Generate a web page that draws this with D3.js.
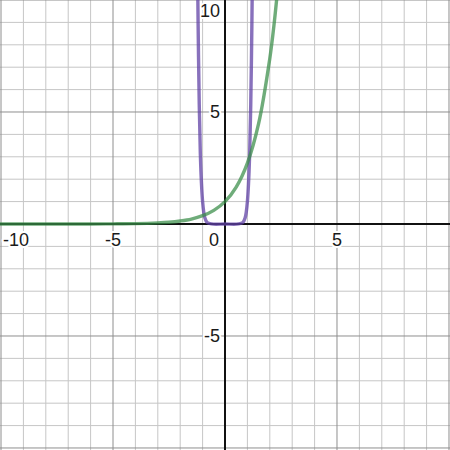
<!DOCTYPE html>
<html>
<head>
<meta charset="utf-8">
<script src="https://cdn.jsdelivr.net/npm/d3@7"></script>
<style>
	body { margin: 0; background: #fff; }
	svg { display: block; }
	.tick_label { font-family: "Liberation Sans", Arial, sans-serif; font-size: 18px; fill: #1a1a1a;
		stroke: #fff; stroke-width: 4px; paint-order: stroke; stroke-linejoin: round; }
</style>
</head>
<body>
<div id="graph_display"></div>
<script>
//------------------------------------------------------------------------------
// Data
//------------------------------------------------------------------------------

var x_ticks = [-10, -5, 5];
var x_tick_labels = ["-10", "-5", "5"];
var y_ticks = [10, 5, -5];
var y_tick_labels = ["10", "5", "-5"];

// green curve (rising exponential)
var green_x = [-10.1, -8, -6, -5, -4, -3, -2.5, -2, -1.5, -1, -0.5, 0, 0.5, 1, 1.5, 2, 2.2, 2.4];
var green_y = [0, 0.0003, 0.0025, 0.007, 0.018, 0.05, 0.08, 0.135, 0.22, 0.37, 0.61, 1, 1.65, 2.72, 4.48, 7.39, 9.0, 11.0];

// purple curve (steep, flat near zero)
var purple_x = [-1.23, -1.2, -1.15, -1.1, -1.05, -1.0, -0.95, -0.9, -0.8, -0.6, 0, 0.6, 0.8, 0.9, 0.95, 1.0, 1.05, 1.1, 1.15, 1.2, 1.23];
var purple_y = [12, 8.9, 5.35, 3.1, 1.8, 1.0, 0.54, 0.28, 0.07, 0.002, 0, 0.002, 0.07, 0.28, 0.54, 1.0, 1.8, 3.1, 5.35, 8.9, 12];


//------------------------------------------------------------------------------
// Plotting functions
//------------------------------------------------------------------------------

function plot_graph(div_id) {
	var width = 450, height = 450;

	var svg = d3.select(div_id)
		.append("svg")
		.attr("width", width)
		.attr("height", height);

	var xscale = d3.scaleLinear()
		.domain([-10.045, 10.045])
		.range([0, width]);

	var yscale = d3.scaleLinear()
		.domain([-10.09, 10.0])
		.range([height, 0]);

	// grid lines, minor first then every 5 darker
	var grid = svg.append("g");
	var minor = d3.range(-10, 11).filter(function(d) { return d % 5 != 0; });
	var major = [-10, -5, 5, 10];

	grid.selectAll("line.vminor").data(minor).enter().append("line")
		.attr("x1", function(d) { return xscale(d); })
		.attr("x2", function(d) { return xscale(d); })
		.attr("y1", 0).attr("y2", height)
		.attr("stroke", "#c6c6c6").attr("stroke-width", 1);
	grid.selectAll("line.hminor").data(minor).enter().append("line")
		.attr("y1", function(d) { return yscale(d); })
		.attr("y2", function(d) { return yscale(d); })
		.attr("x1", 0).attr("x2", width)
		.attr("stroke", "#c6c6c6").attr("stroke-width", 1);
	grid.selectAll("line.vmajor").data(major).enter().append("line")
		.attr("x1", function(d) { return xscale(d); })
		.attr("x2", function(d) { return xscale(d); })
		.attr("y1", 0).attr("y2", height)
		.attr("stroke", "#8e8e8e").attr("stroke-width", 1);
	grid.selectAll("line.hmajor").data(major).enter().append("line")
		.attr("y1", function(d) { return yscale(d); })
		.attr("y2", function(d) { return yscale(d); })
		.attr("x1", 0).attr("x2", width)
		.attr("stroke", "#8e8e8e").attr("stroke-width", 1);

	// axes
	svg.append("line")
		.attr("x1", 0).attr("x2", width)
		.attr("y1", yscale(0)).attr("y2", yscale(0))
		.attr("stroke", "#111").attr("stroke-width", 2);
	svg.append("line")
		.attr("x1", xscale(0)).attr("x2", xscale(0))
		.attr("y1", 0).attr("y2", height)
		.attr("stroke", "#111").attr("stroke-width", 2);

	// tick labels
	svg.selectAll("text.xl").data(x_ticks).enter().append("text")
		.attr("class", "tick_label")
		.attr("x", function(d, i) { return d == -10 ? 3 : xscale(d); })
		.attr("y", yscale(0) + 22)
		.attr("text-anchor", function(d) { return d == -10 ? "start" : "middle"; })
		.text(function(d, i) { return x_tick_labels[i]; });

	svg.selectAll("text.yl").data(y_ticks).enter().append("text")
		.attr("class", "tick_label")
		.attr("x", xscale(0) - 5)
		.attr("y", function(d) { return d == 10 ? 17 : yscale(d) + 6.5; })
		.attr("text-anchor", "end")
		.text(function(d, i) { return y_tick_labels[i]; });

	svg.append("text")
		.attr("class", "tick_label")
		.attr("x", xscale(0) - 6)
		.attr("y", yscale(0) + 22)
		.attr("text-anchor", "end")
		.text("0");

	// curves
	svg.append("clipPath").attr("id", "plot_clip")
		.append("rect").attr("width", width).attr("height", height);

	var line = d3.line()
		.x(function(d) { return xscale(d[0]); })
		.y(function(d) { return yscale(d[1]); })
		.curve(d3.curveCatmullRom.alpha(0.5));

	svg.append("path")
		.datum(d3.zip(purple_x, purple_y))
		.attr("clip-path", "url(#plot_clip)")
		.attr("d", line)
		.attr("fill", "none")
		.attr("stroke", "#6042a6")
		.attr("stroke-opacity", 0.75)
		.attr("stroke-width", 3.4)
		.attr("stroke-linejoin", "round");

	svg.append("path")
		.datum(d3.zip(green_x, green_y))
		.attr("clip-path", "url(#plot_clip)")
		.attr("d", line)
		.attr("fill", "none")
		.attr("stroke", "#388c46")
		.attr("stroke-opacity", 0.72)
		.attr("stroke-width", 3.4)
		.attr("stroke-linejoin", "round");
}


//------------------------------------------------------------------------------
// Main
//------------------------------------------------------------------------------

function main() {
	plot_graph("#graph_display");
}

window.addEventListener('load', main, false);
</script>
</body>
</html>
